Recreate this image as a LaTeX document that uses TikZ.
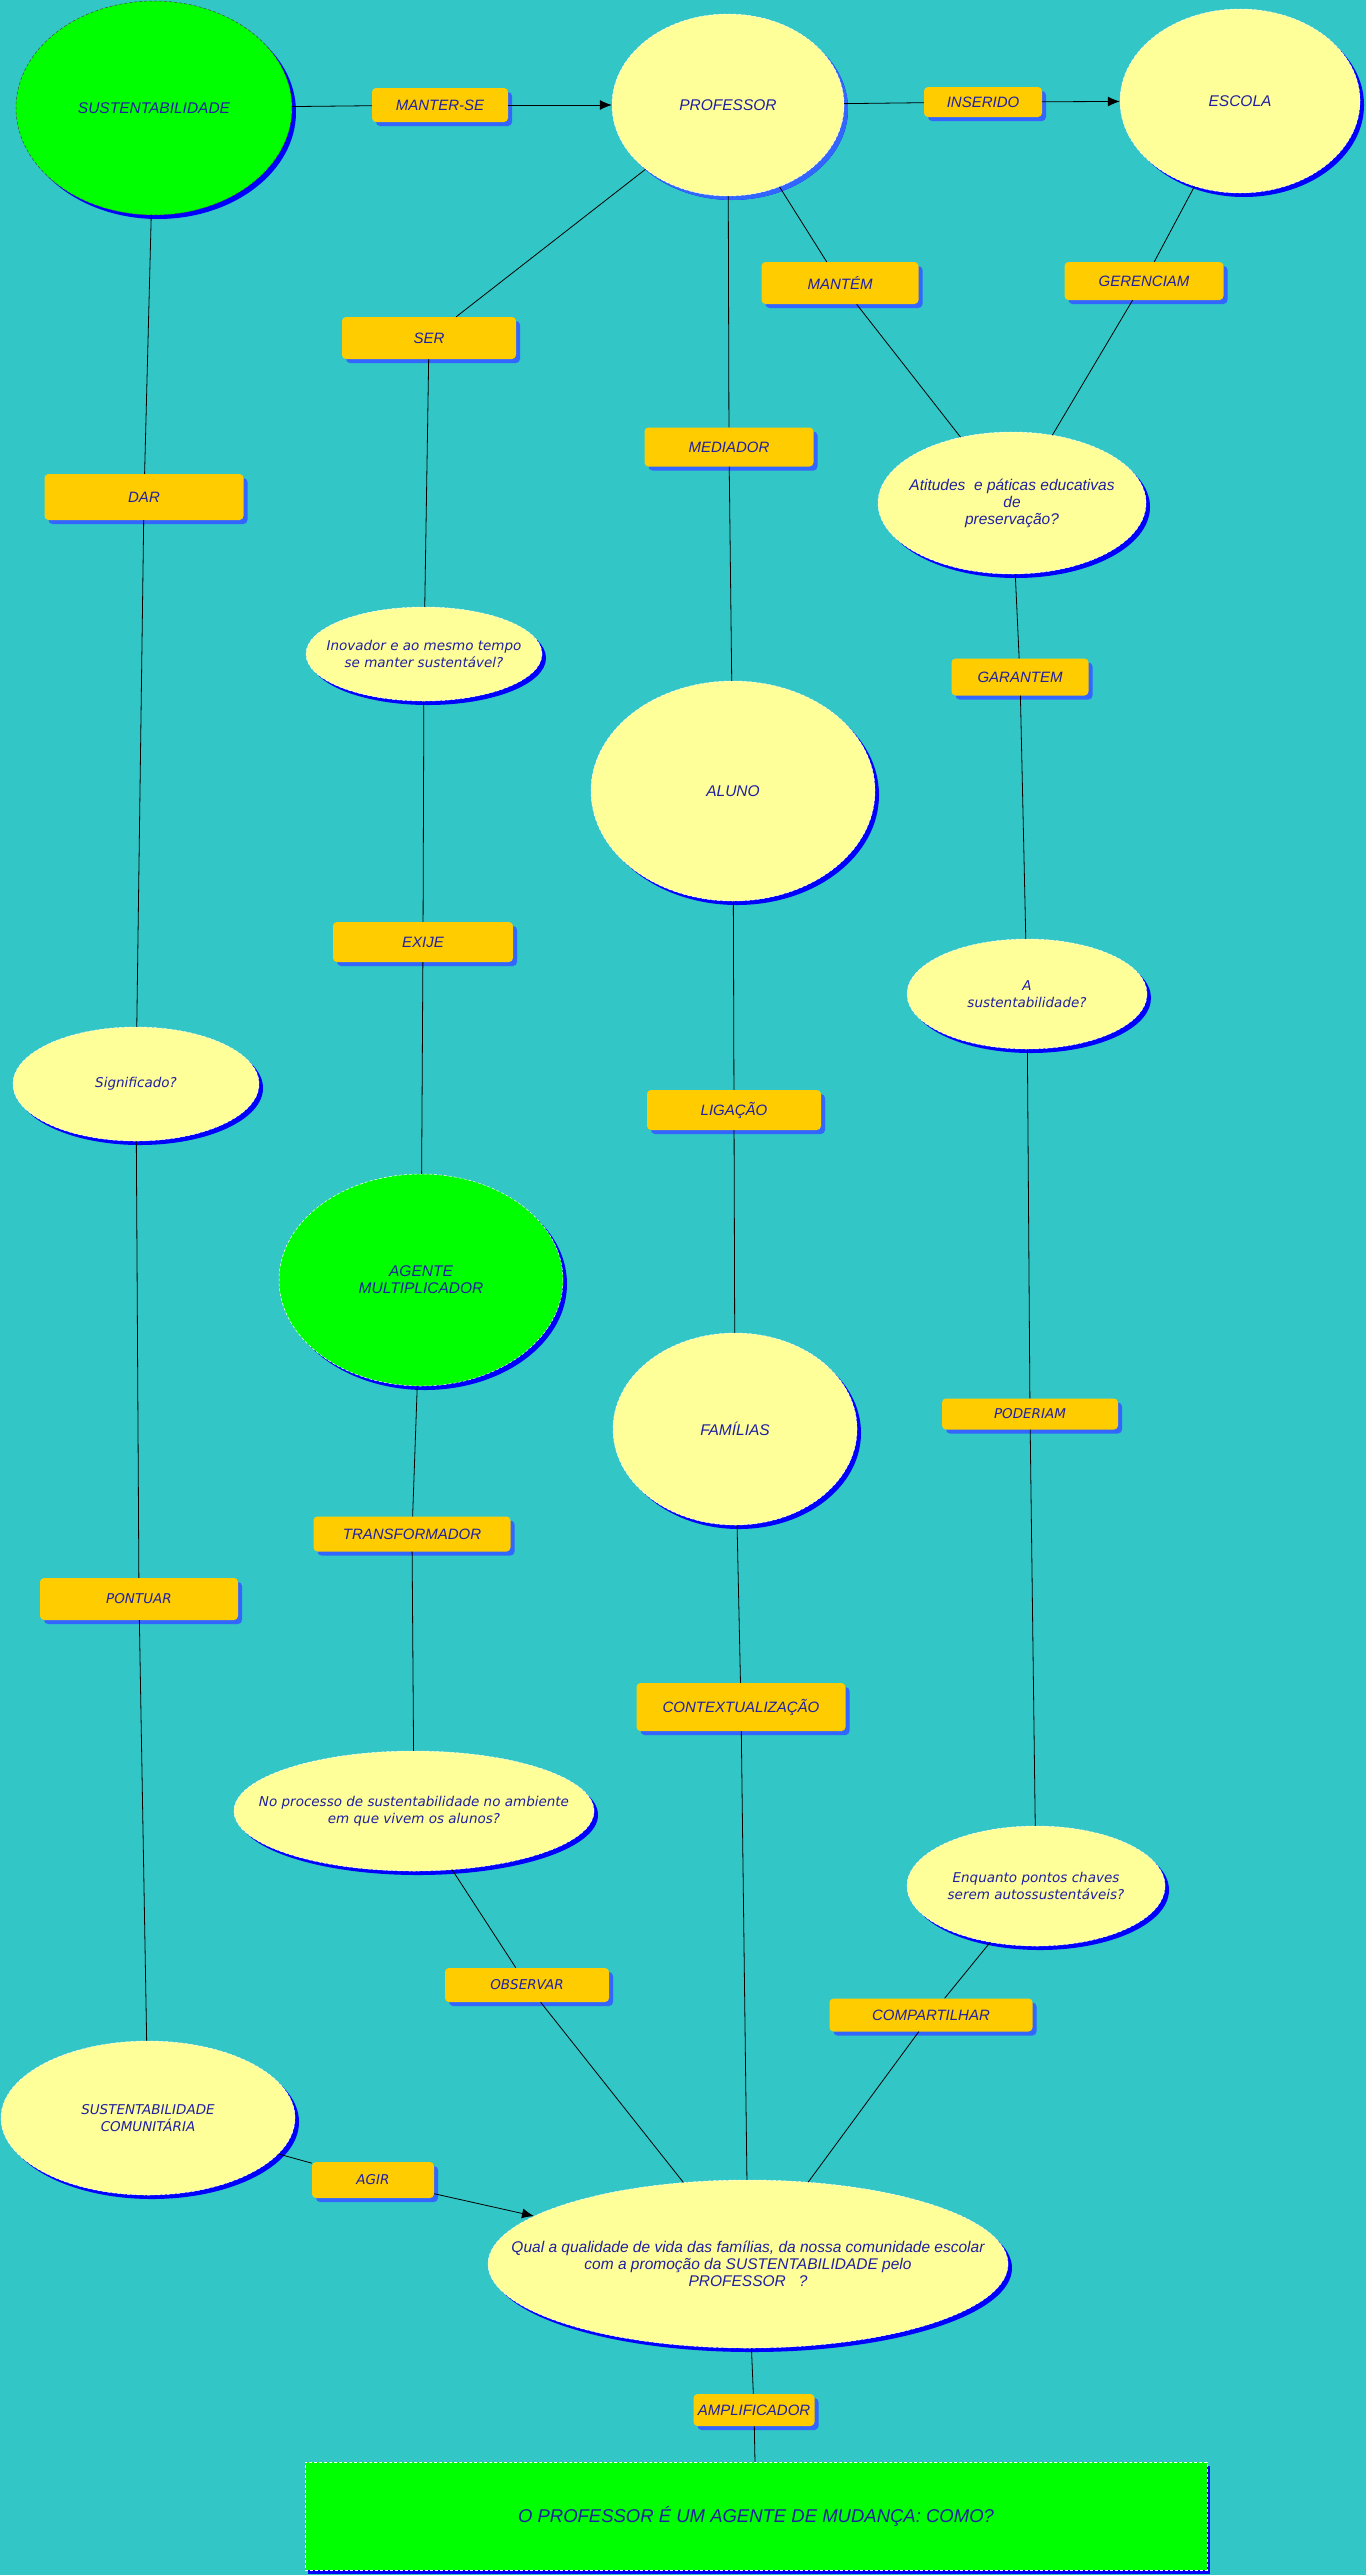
\documentclass[tikz,border=0pt]{standalone}
\usepackage{fontspec}
\setmainfont{Liberation Sans}
\newfontfamily\verdfont{DejaVu Sans}
\usetikzlibrary{arrows,arrows.meta,shapes,shadows}
\definecolor{fundo}{RGB}{51,198,198}
\definecolor{creme}{RGB}{255,255,153}
\definecolor{verde}{RGB}{0,255,0}
\definecolor{ouro}{RGB}{255,204,0}
\definecolor{sombra}{RGB}{51,102,255}
\definecolor{tinta}{RGB}{32,32,160}
\tikzset{bubble/.style={
            ellipse,
            fill=creme,
            draw=white,
            densely dashed,
            line width=0.5pt,
            inner sep=0pt,
            text=tinta,
            align=center,
            font=\fontsize{15.5}{17}\selectfont\itshape,
            drop shadow={shadow xshift=4pt,shadow yshift=-4pt,fill=blue,opacity=1,draw=none}
        },
        greenbubble/.style={
            bubble,
            fill=verde
        },
        captext/.style={
            text=tinta,
            align=center,
            inner sep=0pt,
            font=\fontsize{15.5}{17}\selectfont\itshape
        },
        vcaptext/.style={
            captext,
            font=\fontsize{13.5}{17}\selectfont\verdfont\itshape
        },
        caption/.style={label={[captext]center:{#1}}},
        vcaption/.style={label={[vcaptext]center:{#1}}},
        linkbox/.style={
            rectangle,
            rounded corners=4pt,
            fill=ouro,
            inner sep=0pt,
            text=tinta,
            font=\fontsize{15}{17}\selectfont\itshape,
            drop shadow={shadow xshift=4pt,shadow yshift=-4pt,fill=sombra,opacity=1}
        },
        finalbox/.style={
            rectangle,
            fill=verde,
            draw=white,
            densely dashed,
            line width=0.5pt,
            inner sep=0pt,
            text=tinta,
            font=\fontsize{18.5}{22}\selectfont\itshape,
            drop shadow={shadow xshift=3pt,shadow yshift=-4pt,fill=blue,opacity=1,draw=none}
        },
        verd/.style={
            font=\fontsize{13.5}{17}\selectfont\verdfont\itshape
        },
        link/.style={
            black,
            line width=0.8pt
        }
    }
\begin{document}
\begin{tikzpicture}[x=1pt,y=-1pt]
\path[fill=fundo,use as bounding box] (0,0) rectangle (1366,2575);
\node[greenbubble,draw=black!70,minimum width=276pt,minimum height=214pt] (sust) at (154,108) {SUSTENTABILIDADE};
\node[linkbox,minimum width=136pt,minimum height=34pt] (manter) at (440,105) {MANTER-SE};
\node[bubble,minimum width=232pt,minimum height=182pt,drop shadow={shadow xshift=4pt,shadow yshift=-4pt,fill=sombra,opacity=1,draw=none}] (prof) at (728,105) {PROFESSOR};
\node[linkbox,minimum width=118pt,minimum height=30pt] (inser) at (983,102) {INSERIDO};
\node[bubble,minimum width=240pt,minimum height=184pt] (escola) at (1240,101) {ESCOLA};
\node[linkbox,minimum width=174pt,minimum height=42pt] (ser) at (429,338) {SER};
\node[linkbox,minimum width=157pt,minimum height=42pt] (mantem) at (840,283) {MANTÉM};
\node[linkbox,minimum width=159pt,minimum height=38pt] (geren) at (1144,281) {GERENCIAM};
\node[linkbox,minimum width=169pt,minimum height=39pt] (media) at (729,447) {MEDIADOR};
\node[bubble,minimum width=268pt,minimum height=142pt,caption={Atitudes\ \ e páticas educativas\\de\\preservação?}] (atit) at (1012,503) {};
\node[linkbox,minimum width=199pt,minimum height=46pt] (dar) at (144,497) {DAR};
\node[bubble,minimum width=236pt,minimum height=94pt,vcaption={Inovador e ao mesmo tempo\\se manter sustentável?}] (inov) at (424,654) {};
\node[linkbox,minimum width=180pt,minimum height=40pt] (exije) at (423,942) {EXIJE};
\node[bubble,minimum width=284pt,minimum height=220pt] (aluno) at (733,791) {ALUNO};
\node[linkbox,minimum width=137pt,minimum height=37pt] (garan) at (1020,677) {GARANTEM};
\node[bubble,minimum width=240pt,minimum height=110pt,vcaption={A\\sustentabilidade?}] (asust) at (1027,994) {};
\node[bubble,verd,minimum width=246pt,minimum height=114pt] (signif) at (136,1084) {Significado?};
\node[linkbox,minimum width=174pt,minimum height=40pt] (ligac) at (734,1110) {LIGAÇÃO};
\node[greenbubble,minimum width=284pt,minimum height=212pt] (agente) at (421,1280) {AGENTE\\MULTIPLICADOR};
\node[bubble,minimum width=244pt,minimum height=192pt] (famil) at (735,1429) {FAMÍLIAS};
\node[linkbox,verd,minimum width=176pt,minimum height=31pt] (poder) at (1030,1414) {PODERIAM};
\node[linkbox,minimum width=197pt,minimum height=35pt] (transf) at (412,1534) {TRANSFORMADOR};
\node[linkbox,verd,minimum width=198pt,minimum height=42pt] (pontu) at (139,1599) {PONTUAR};
\node[linkbox,minimum width=209pt,minimum height=48pt] (contx) at (741,1707) {CONTEXTUALIZAÇÃO};
\node[bubble,minimum width=360pt,minimum height=120pt,vcaption={No processo de sustentabilidade no ambiente\\em que vivem os alunos?}] (nopro) at (414,1811) {};
\node[bubble,minimum width=258pt,minimum height=120pt,vcaption={Enquanto pontos chaves\\serem autossustentáveis?}] (enqua) at (1036,1886) {};
\node[linkbox,verd,minimum width=164pt,minimum height=34pt] (obser) at (527,1985) {OBSERVAR};
\node[linkbox,minimum width=203pt,minimum height=33pt] (compa) at (931,2015) {COMPARTILHAR};
\node[bubble,minimum width=294pt,minimum height=154pt,vcaption={SUSTENTABILIDADE\\COMUNITÁRIA}] (comun) at (148,2118) {};
\node[linkbox,verd,minimum width=122pt,minimum height=36pt] (agir) at (373,2180) {AGIR};
\node[bubble,minimum width=520pt,minimum height=168pt,caption={Qual a qualidade de vida das famílias, da nossa comunidade escolar\\com a promoção da SUSTENTABILIDADE pelo\\PROFESSOR\ \ \ ?}] (qual) at (748,2264) {};
\node[linkbox,minimum width=121pt,minimum height=32pt] (ampli) at (754,2410) {AMPLIFICADOR};
\node[finalbox,minimum width=902pt,minimum height=108pt] (final) at (756,2516) {O PROFESSOR É UM AGENTE DE MUDANÇA: COMO?};
\draw[link] (sust) -- (manter);
\draw[link,-{Latex[length=12pt,width=10pt]}] (manter) -- (prof);
\draw[link] (prof) -- (inser);
\draw[link,-{Latex[length=12pt,width=10pt]}] (inser) -- (escola);
\draw[link] (prof) -- (ser) (ser) -- (inov) (inov) -- (exije) (exije) -- (agente);
\draw[link] (agente) -- (transf) (transf) -- (nopro) (nopro) -- (obser) (obser) -- (qual);
\draw[link] (sust) -- (dar) (dar) -- (signif) (signif) -- (pontu) (pontu) -- (comun) (comun) -- (agir);
\draw[link,-{Latex[length=12pt,width=10pt]}] (agir) -- (qual);
\draw[link] (prof) -- (media) (media) -- (aluno) (aluno) -- (ligac) (ligac) -- (famil) (famil) -- (contx) (contx) -- (qual);
\draw[link] (prof) -- (mantem) (mantem) -- (atit) (escola) -- (geren) (geren) -- (atit);
\draw[link] (atit) -- (garan) (garan) -- (asust) (asust) -- (poder) (poder) -- (enqua) (enqua) -- (compa) (compa) -- (qual);
\draw[link] (qual) -- (ampli) (ampli) -- (final);
\end{tikzpicture}
\end{document}
